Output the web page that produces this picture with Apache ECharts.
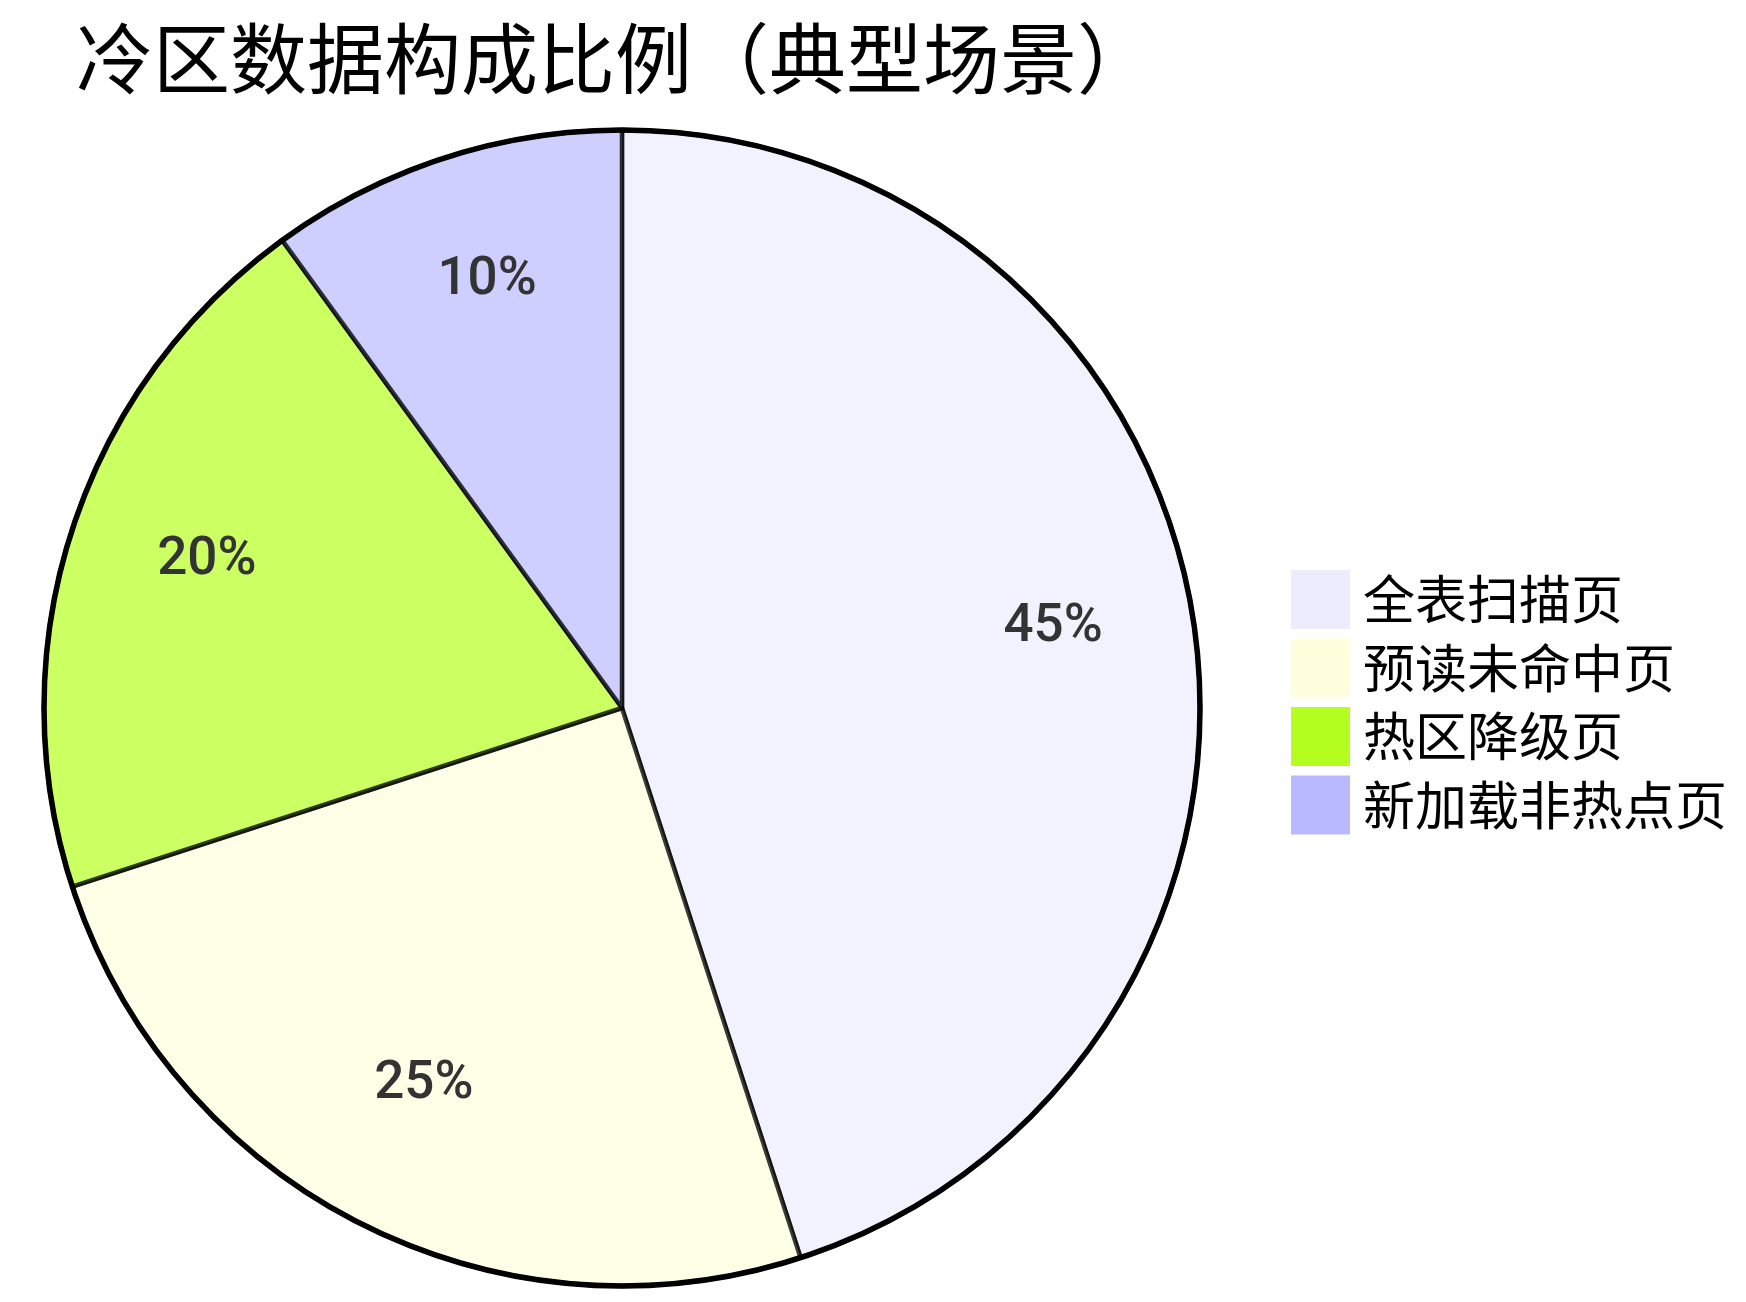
<!DOCTYPE html>
<html>
<head>
<meta charset="utf-8">
<script src="https://cdn.jsdelivr.net/npm/echarts@6/dist/echarts.min.js"></script>
<style>
html,body{margin:0;padding:0;background:#fff;}
#chart{width:1746px;height:1302px;}
</style>
</head>
<body>
<div id="chart"></div>
<script>
const titleText = '冷区数据构成比例（典型场景）';
const categories = ['全表扫描页', '预读未命中页', '热区降级页', '新加载非热点页'];
const values = [45, 25, 20, 10];
const colors = ['#ECECFF', '#FFFFDE', '#B5FF20', '#B9B9FF'];

const chart = echarts.init(document.getElementById('chart'), null, {renderer: 'canvas'});
const CX = 622, CY = 708, R = 578;

const option = {
  backgroundColor: '#ffffff',
  animation: false,
  title: {
    text: titleText,
    left: 76,
    top: 18,
    padding: 0,
    textStyle: {
      fontFamily: '"Noto Sans CJK SC", sans-serif',
      fontSize: 77,
      fontWeight: 'normal',
      color: '#000',
      lineHeight: 82
    }
  },
  legend: {
    orient: 'vertical',
    left: 1291,
    top: 570,
    padding: 0,
    itemWidth: 59,
    itemHeight: 59,
    itemGap: 9.5,
    icon: 'rect',
    data: categories,
    itemStyle: { opacity: 1, borderWidth: 0 },
    textStyle: {
      fontFamily: '"Noto Sans CJK SC", sans-serif',
      fontSize: 52,
      color: '#000',
      lineHeight: 59,
      padding: [0, 0, 0, 8]
    }
  },
  series: [
    {
      name: 'main',
      type: 'pie',
      center: [CX, CY],
      radius: R,
      startAngle: 90,
      clockwise: true,
      silent: true,
      label: { show: false },
      labelLine: { show: false },
      itemStyle: { opacity: 0.7, borderColor: '#000', borderWidth: 4.5 },
      data: categories.map((n, i) => ({ name: n, value: values[i], itemStyle: { color: colors[i] } }))
    },
    {
      name: 'ring',
      type: 'pie',
      center: [CX, CY],
      radius: R,
      silent: true,
      label: { show: false },
      labelLine: { show: false },
      itemStyle: { color: 'rgba(0,0,0,0)', borderColor: '#000', borderWidth: 5.5 },
      data: [{ name: '__ring', value: 1 }]
    },
    {
      name: 'labels',
      type: 'pie',
      center: [CX, CY - 12],
      radius: [R / 2, R],
      startAngle: 90,
      clockwise: true,
      silent: true,
      itemStyle: { color: 'rgba(0,0,0,0)', borderWidth: 0 },
      labelLine: { show: false },
      label: {
        show: true,
        position: 'inside',
        formatter: '{c}%',
        fontFamily: 'Roboto, "Noto Sans", sans-serif',
        fontWeight: 500,
        fontSize: 53,
        color: '#333'
      },
      data: categories.map((n, i) => ({ name: n, value: values[i] }))
    }
  ]
};
chart.setOption(option);
</script>
</body>
</html>
